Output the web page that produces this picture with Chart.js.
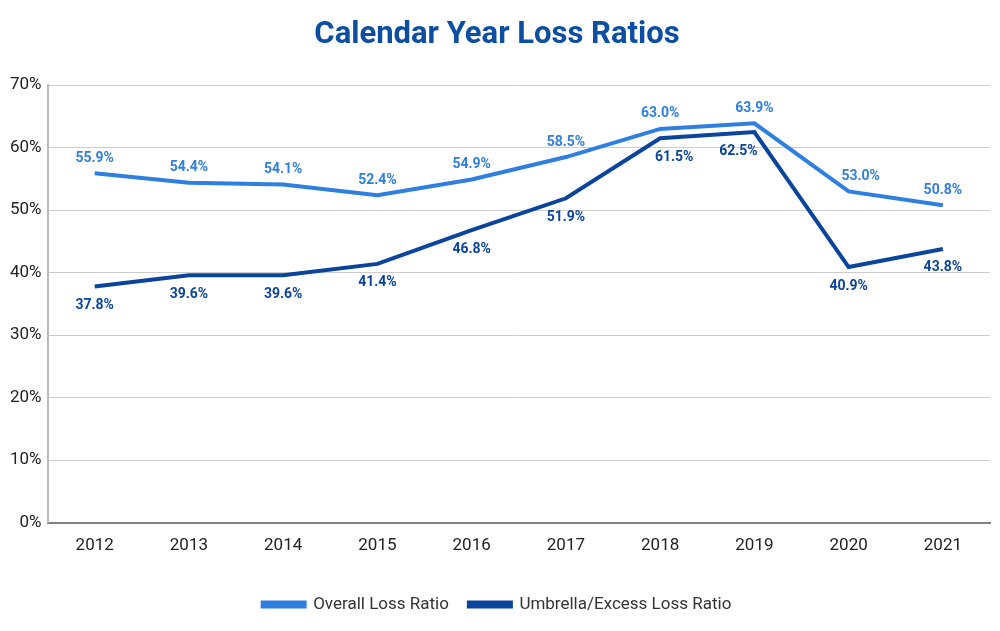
<!DOCTYPE html>
<html><head><meta charset="utf-8">
<script src="https://cdn.jsdelivr.net/npm/chart.js@4"></script>
<style>html,body{margin:0;padding:0;background:#fff}#w{width:1000px;height:631px}</style>
</head><body><div id="w"><canvas id="c"></canvas></div>
<script>
const years = ['2012','2013','2014','2015','2016','2017','2018','2019','2020','2021'];
const overall = [55.9,54.4,54.1,52.4,54.9,58.5,63.0,63.9,53.0,50.8];
const umbrella = [37.8,39.6,39.6,41.4,46.8,51.9,61.5,62.5,40.9,43.8];
const yTicks = [0,10,20,30,40,50,60,70];

// label nudges (style only): [datasetIndex][pointIndex] -> dx
const nudgeX = {0:{8:12}, 1:{6:14,7:-16}};

const labelPlugin = {
  id:'lbl',
  afterDatasetsDraw(chart){
    const ctx = chart.ctx;
    ctx.save();
    ctx.font = 'bold 14px "Roboto"';
    ctx.textAlign = 'center';
    ctx.textBaseline = 'middle';
    chart.data.datasets.forEach((ds,i)=>{
      const meta = chart.getDatasetMeta(i);
      meta.data.forEach((pt,j)=>{
        ctx.fillStyle = ds.borderColor;
        const t = ds.data[j].toFixed(1)+'%';
        const dx = (nudgeX[i] && nudgeX[i][j]) || 0;
        ctx.fillText(t, pt.x+dx, i===0 ? pt.y-15 : pt.y+19);
      });
    });
    ctx.restore();
  }
};

new Chart(document.getElementById('c'),{
  type:'line',
  data:{labels:years,datasets:[
    {label:'Overall Loss Ratio',data:overall,borderColor:'#2f7fe0',backgroundColor:'#2f7fe0',borderWidth:4,pointRadius:0,tension:0},
    {label:'Umbrella/Excess Loss Ratio',data:umbrella,borderColor:'#0a449c',backgroundColor:'#0a449c',borderWidth:4,pointRadius:0,tension:0}
  ]},
  options:{
    responsive:true,maintainAspectRatio:false,animation:false,
    layout:{padding:{left:4,right:10,top:0,bottom:8}},
    plugins:{
      title:{display:true,text:'Calendar Year Loss Ratios',color:'#0b4ea2',font:{family:'Roboto',size:31,weight:'bold'},padding:{top:17,bottom:31}},
      legend:{position:'bottom',labels:{boxWidth:42,boxHeight:4,color:'#333',font:{family:'Roboto',size:17},padding:20},},
      tooltip:{enabled:false}
    },
    scales:{
      x:{offset:true,grid:{display:false,drawTicks:false},border:{color:'#808080',width:2},
         afterFit(s){s.height+=7;},
         ticks:{color:'#222',font:{family:'Roboto',size:17},padding:13}},
      y:{min:0,max:70,afterBuildTicks(s){s.ticks=yTicks.map(v=>({value:v}));},
         grid:{color:'#cccccc',drawTicks:false},border:{color:'#bbb',width:2},
         ticks:{color:'#222',font:{family:'Roboto',size:17},padding:6,callback:v=>v+'%'}}
    }
  },
  plugins:[labelPlugin]
});
</script></body></html>
